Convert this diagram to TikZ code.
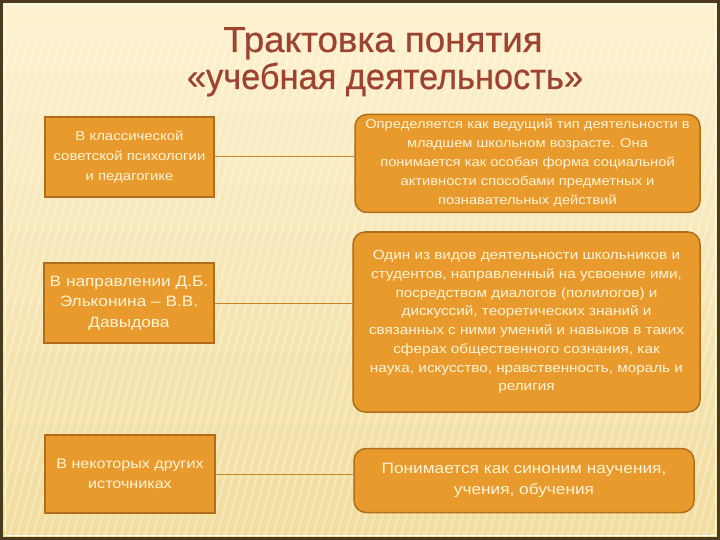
\documentclass[tikz,border=0pt]{standalone}
\usepackage{fontspec}
\setmainfont{Liberation Sans}
\newfontfamily\boxfont[FakeStretch=1.15]{Liberation Sans}
\newfontfamily\titlefont[FakeBold=0.6]{Liberation Sans}
\definecolor{bgtop}{HTML}{FDF2D0}
\definecolor{bgbot}{HTML}{F1DC9C}
\definecolor{boxfill}{HTML}{E99A2C}
\definecolor{boxline}{HTML}{B06D1C}
\definecolor{boxtext}{HTML}{FFF4D8}
\definecolor{titlecol}{HTML}{9E4330}
\definecolor{framecol}{HTML}{4A3A1E}
\definecolor{linkcol}{HTML}{C98729}
\tikzset{
  leftbox/.style={draw=boxline, line width=1.5pt, fill=boxfill, text=boxtext,
    align=center, inner sep=2pt},
  rightbox/.style={draw=boxline, line width=1.5pt, fill=boxfill, text=boxtext,
    align=center, rounded corners=12pt, inner sep=2pt},
  link/.style={draw=linkcol, line width=1pt},
  titletext/.style={font=\titlefont\fontsize{36}{40}\selectfont, text=titlecol, anchor=base},
  stripe/.style={white, opacity=0.28, line width=2.5pt},
}
\begin{document}
\begin{tikzpicture}[x=1pt,y=-1pt]
\useasboundingbox (0,0) rectangle (720,540);
% background
\shade[top color=bgtop, bottom color=bgbot] (0,0) rectangle (720,540);
\begin{scope}
  \clip (0,30) rectangle (720,540);
  \foreach \i in {-20,...,92} {
    \draw[stripe] (\i*8,540) -- (\i*8+135,30);
  }
\end{scope}
\draw[framecol, line width=3pt] (1.5,1.5) rectangle (718.5,538.5);
\draw[white!70!bgtop, line width=1pt] (5,5) rectangle (715,535);
% title
\node[titletext, xscale=1.02] (t1) at (383,52) {Трактовка понятия};
\node[titletext, xscale=0.955] (t2) at (385,89) {«учебная деятельность»};
% left boxes
\node[leftbox, minimum width=169pt, minimum height=80pt,
  font=\boxfont\fontsize{13}{20}\selectfont] (l1) at (129.5,157)
  {В классической\\советской психологии\\и педагогике};
\node[leftbox, minimum width=170pt, minimum height=80pt,
  font=\boxfont\fontsize{15}{20.5}\selectfont] (l2) at (129,303)
  {В направлении Д.Б.\\Эльконина – В.В.\\Давыдова};
\node[leftbox, minimum width=170pt, minimum height=78pt,
  font=\boxfont\fontsize{14}{20}\selectfont] (l3) at (130,474)
  {В некоторых других\\источниках};
% right boxes
\node[rightbox, minimum width=345pt, minimum height=98pt,
  font=\boxfont\fontsize{12.8}{19}\selectfont] (r1) at (527.5,163.5)
  {Определяется как ведущий тип деятельности в\\младшем школьном возрасте. Она\\понимается как особая форма социальной\\активности способами предметных и\\познавательных действий};
\node[rightbox, minimum width=347pt, minimum height=180pt,
  font=\boxfont\fontsize{13.3}{18.7}\selectfont] (r2) at (526.5,322)
  {Один из видов деятельности школьников и\\студентов, направленный на усвоение ими,\\посредством диалогов (полилогов) и\\дискуссий, теоретических знаний и\\связанных с ними умений и навыков в таких\\сферах общественного сознания, как\\наука, искусство, нравственность, мораль и\\религия};
\node[rightbox, minimum width=340pt, minimum height=64pt,
  font=\boxfont\fontsize{15}{21}\selectfont] (r3) at (524,480.5)
  {Понимается как синоним научения,\\учения, обучения};
% connectors
\draw[link] (l1.east) -- (l1.east -| r1.west);
\draw[link] (l2.east) -- (l2.east -| r2.west);
\draw[link] (l3.east) -- (l3.east -| r3.west);
\end{tikzpicture}
\end{document}
